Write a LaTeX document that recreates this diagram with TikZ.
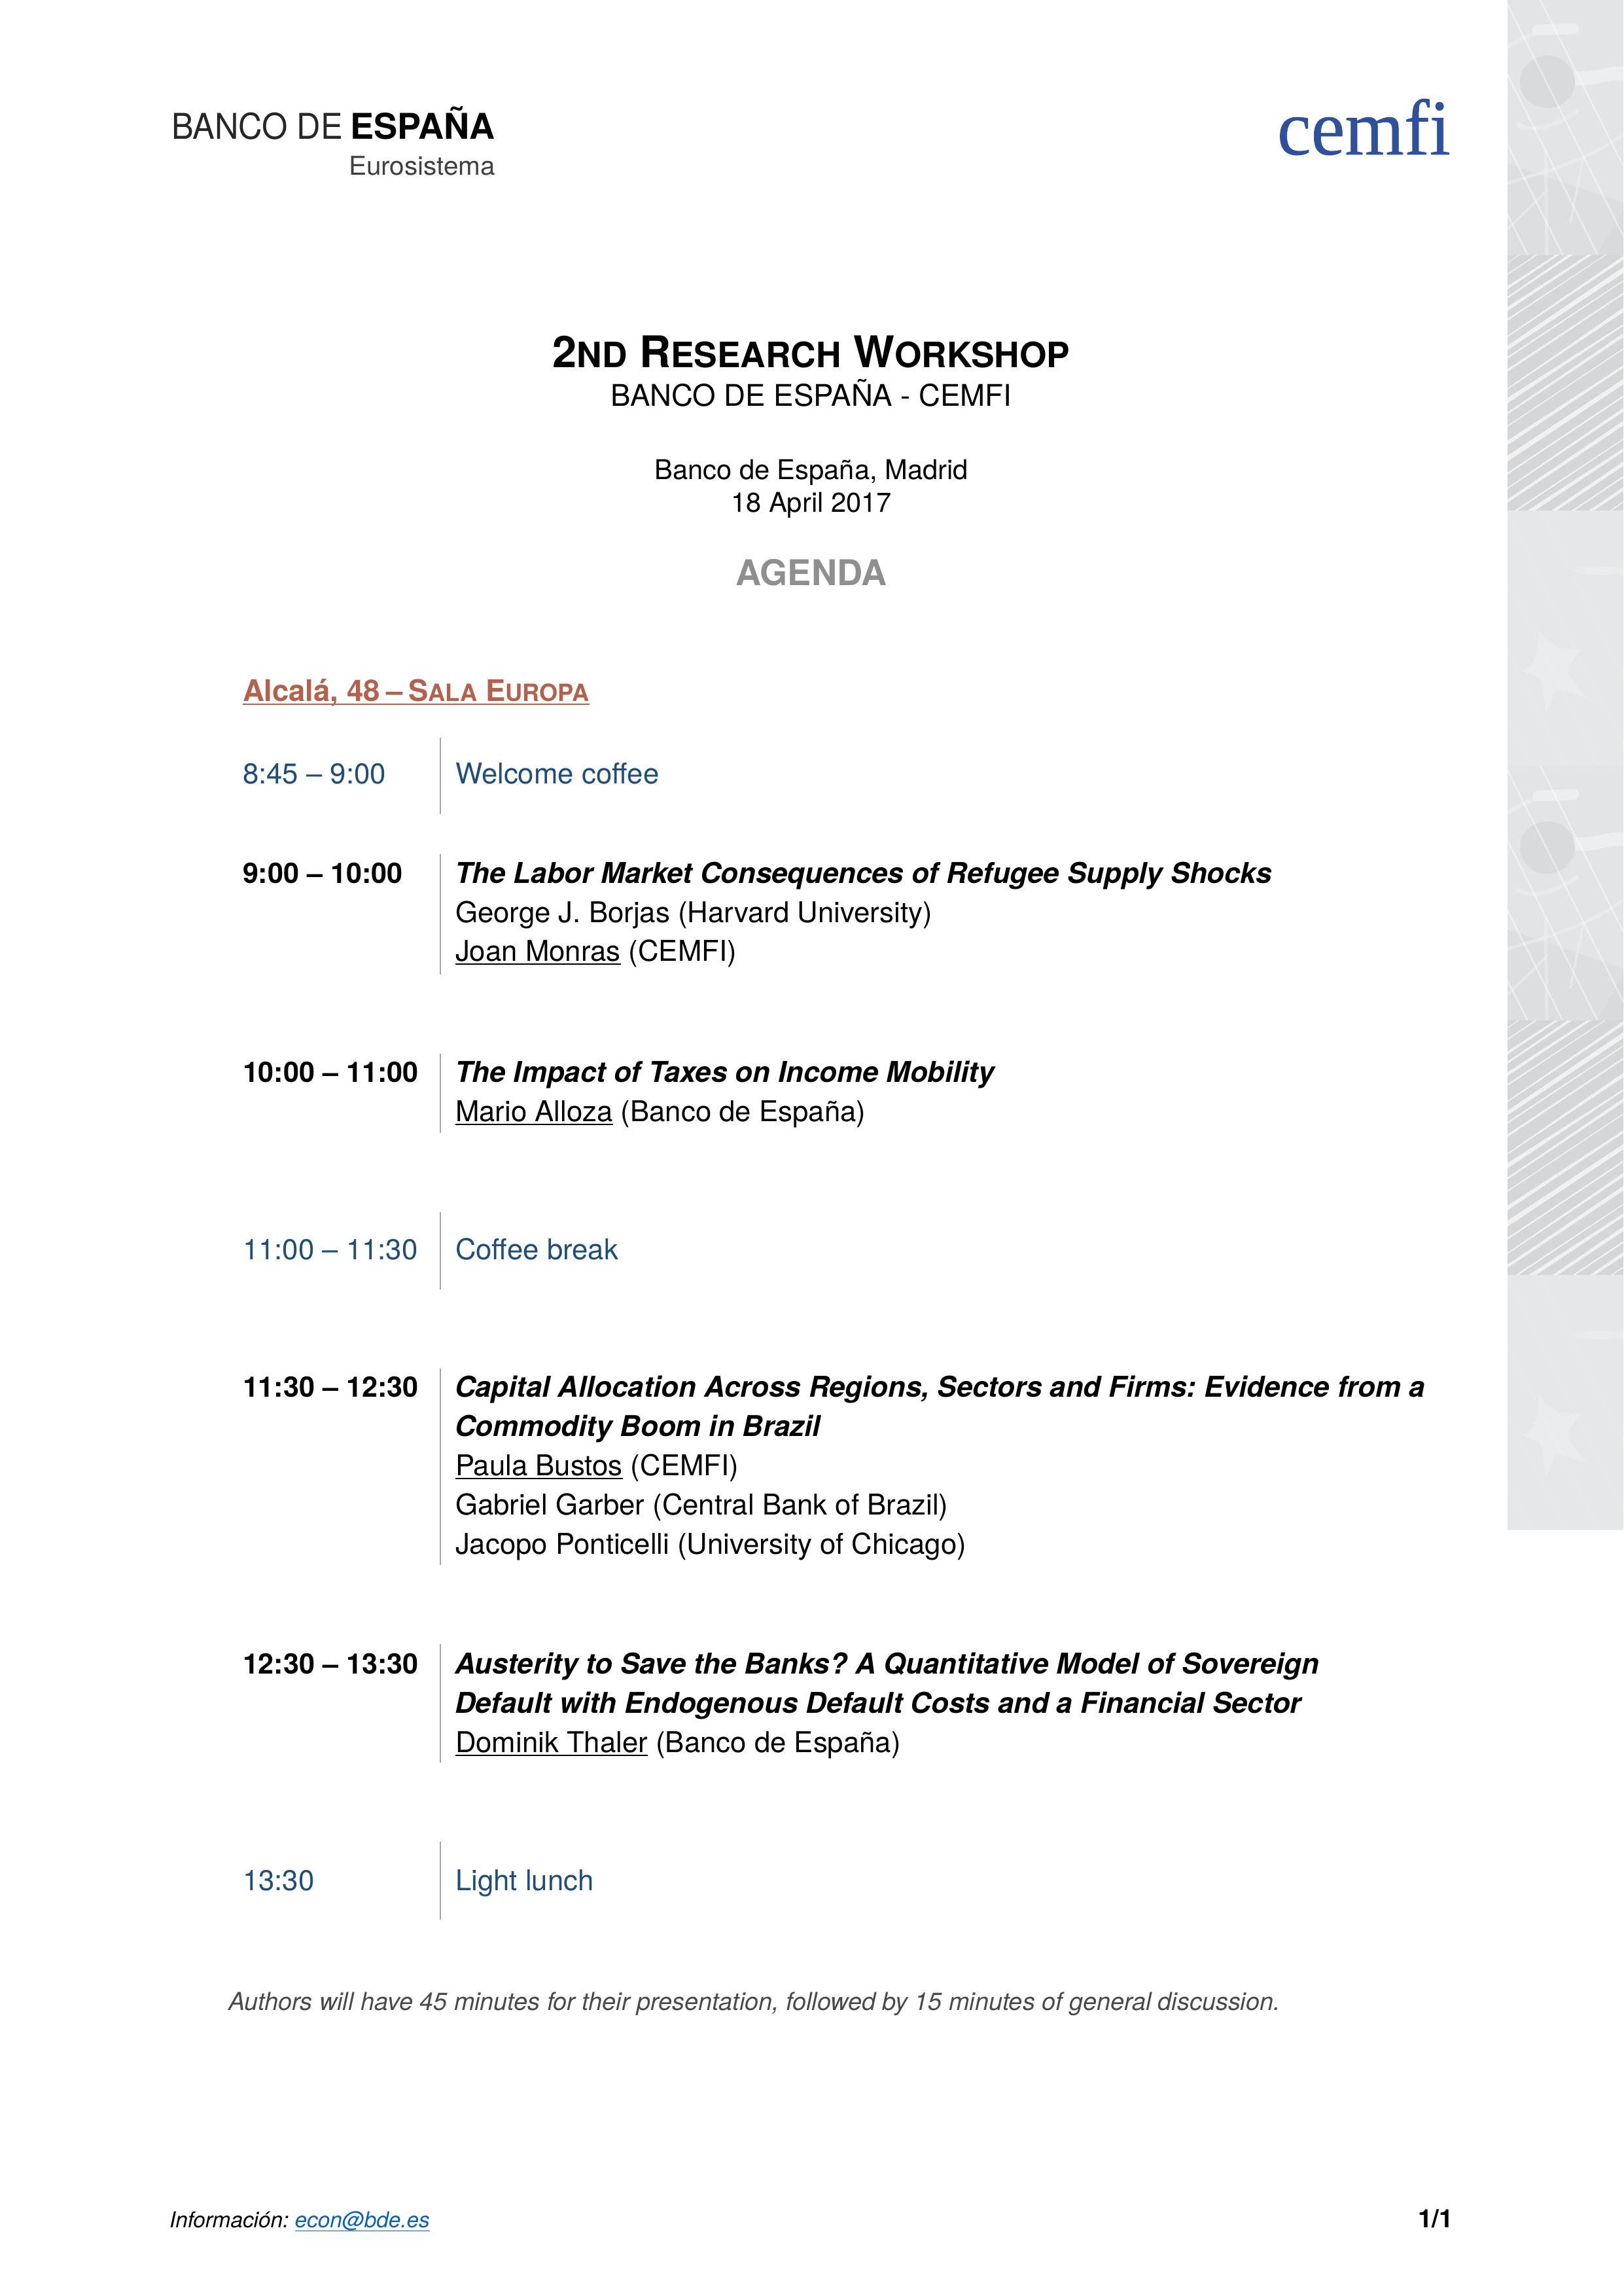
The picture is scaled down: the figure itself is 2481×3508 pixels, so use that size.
\documentclass[tikz,border=0pt]{standalone}
\usepackage{fontspec}
\usepackage{graphicx}
\setmainfont{TeX Gyre Heros}
\newfontfamily\cemfifont[FakeBold=0.5]{Liberation Serif}
\frenchspacing
\definecolor{bluetxt}{HTML}{1F4E7E}
\definecolor{redtxt}{HTML}{B5604A}
\definecolor{graytxt}{HTML}{8F8F8F}
\definecolor{barcol}{HTML}{A6A6A6}
\definecolor{notetxt}{HTML}{4A4A4A}
\definecolor{linktxt}{HTML}{0B62B5}
\definecolor{cemfiblue}{HTML}{2F509B}
\definecolor{pbase}{HTML}{E3E4E5}
\definecolor{plight}{HTML}{EDEEEF}
\definecolor{pdark}{HTML}{D9DADC}
\definecolor{sbase}{HTML}{D5D6D7}
\definecolor{slight}{HTML}{F1F1F1}
\definecolor{sbaseb}{HTML}{E6E7E8}
\newcommand\myul[2][0.6pt]{\leavevmode\setbox0\hbox{#2}\rlap{\rule[-1.5pt]{\wd0}{#1}}\box0 }
\newcommand\bodysize{\fontsize{10.5}{14.4}\selectfont}
\tikzset{
  txt/.style={inner sep=0pt,outer sep=0pt,anchor=base west,font=\bodysize},
  ctr/.style={inner sep=0pt,outer sep=0pt,anchor=base,font=\bodysize},
  timeblue/.style={txt,text=bluetxt},
  timebold/.style={txt,font=\fontsize{10.35}{14.4}\selectfont\bfseries},
  talk/.style={txt,font=\bodysize\bfseries\itshape},
  bar/.style={draw=barcol,line width=0.5pt},
}
\newcommand\hatchlines[3]{% period, colour, width
  \foreach \k in {-100,#1,...,500}{\draw[#2,line width=#3] (2304,\k) -- (2481,\k+354);}}
\newcommand\panelA{%
  \begin{scope}
  \clip (2304,0) rectangle (2481,390);
  \fill[pbase] (2304,0) rectangle (2481,390);
  \fill[pdark!60!pbase] (2304,250) -- (2481,310) -- (2481,390) -- (2304,390) -- cycle;
  \fill[pdark] (2440,390) -- (2481,320) -- (2481,390) -- cycle;
  \draw[plight,line width=4pt,line cap=round] (2350,46) -- (2405,44);
  \draw[plight,line width=5pt,line cap=round] (2395,118) .. controls (2430,125) and (2455,110) .. (2481,112);
  \begin{scope}[opacity=.6]
  \draw[plight,line width=1.5pt,line cap=round] (2304,72) .. controls (2330,55) and (2345,50) .. (2375,45);
  \draw[plight,line width=1.5pt,line cap=round] (2320,190) .. controls (2345,205) and (2380,190) .. (2410,170);
  \draw[plight,line width=1.2pt,line cap=round] (2304,280) .. controls (2350,265) and (2420,250) .. (2481,205);
  \draw[plight,line width=1.2pt] (2362,230) -- (2364,390);
  \draw[plight,line width=.8pt] (2420,240) -- (2400,340);
  \draw[plight,line width=.8pt] (2304,350) -- (2365,290);
  \end{scope}
  \fill[pdark] (2365,125) circle[x radius=42,y radius=40];
  \hatchlines{7}{white,opacity=.42}{0.6pt}
  \end{scope}}
\newcommand\panelB{%
  \begin{scope}
  \clip (2304,0) rectangle (2481,390);
  \fill[sbase] (2304,0) rectangle (2481,390);
  \foreach \o/\wa/\wb in {12/1/6,30/2/3,52/5/2,66/3/7,85/6/3,100/3/1,125/2/6,145/7/9,158/3/2,178/4/3,205/2/7,
     226/8/3,243/3/6,262/2/2,290/7/4,315/9/8,335/3/3,357/2/6,378/5/7,400/3/2,418/8/5,440/4/7,458/2/3,
     478/3/6,496/2/2,512/4/5,535/3/3,555/1/5}{
    \fill[slight] (2304,\o) -- (2481,\o-118) -- (2481,\o-118-\wb) -- (2304,\o-\wa) -- cycle;}
  \end{scope}}
\newcommand\panelC{%
  \begin{scope}
  \clip (2304,0) rectangle (2481,390);
  \fill[sbaseb] (2304,0) rectangle (2481,390);
  \fill[plight,opacity=.7] (2445,92) ellipse[x radius=40,y radius=6];
  \fill[plight,opacity=.7] (2323,245) .. controls (2340,240) and (2350,235) .. (2352,180)
     .. controls (2362,205) and (2385,215) .. (2418,211)
     .. controls (2405,225) and (2395,235) .. (2398,252)
     .. controls (2410,268) and (2420,280) .. (2425,287)
     .. controls (2405,280) and (2385,272) .. (2378,272)
     .. controls (2372,285) and (2368,300) .. (2362,310)
     .. controls (2360,285) and (2358,265) .. (2352,255) -- cycle;
  \hatchlines{4}{white,opacity=.16}{0.4pt}
  \end{scope}}
\begin{document}
\begin{tikzpicture}[x=0.24pt,y=-0.24pt]
\useasboundingbox (0,0) rectangle (2481,3508);
\fill[white] (0,0) rectangle (2481,3508);
% side band
\begin{scope}[shift={(0,0)}]\panelA\end{scope}
\begin{scope}[shift={(0,390)}]\panelB\end{scope}
\begin{scope}[shift={(0,780)}]\panelC\end{scope}
\begin{scope}[shift={(0,1170)}]\panelA\end{scope}
\begin{scope}[shift={(0,1559)}]\panelB\end{scope}
\begin{scope}[shift={(0,1948)}]\panelC\end{scope}
% logos
\node[txt,text=black!85,font=\fontsize{13}{15}\selectfont] (bde1) at (262,213) {\resizebox{62.9pt}{\height}{BANCO DE}};
\node[txt,font=\fontsize{13}{15}\selectfont\bfseries] (bde2) at (535,213) {\resizebox{53.2pt}{\height}{ESPAÑA}};
\node[txt,text=black!75,font=\fontsize{9.5}{11}\selectfont] (bde3) at (533,268) {\resizebox{53.8pt}{\height}{Eurosistema}};
\node[txt,text=cemfiblue,font=\cemfifont\fontsize{29}{30}\selectfont] (cemfi) at (1952,236) {\resizebox{63.6pt}{\height}{cemfi}};
% heading
\node[ctr,font=\bfseries] (title) at (1240,562) {\fontsize{16}{18}\selectfont 2{\fontsize{12.8}{18}\selectfont ND} R{\fontsize{12.8}{18}\selectfont ESEARCH} W{\fontsize{12.8}{18}\selectfont ORKSHOP}};
\node[ctr,font=\fontsize{10.95}{14}\selectfont] (sub) at (1240,621) {BANCO DE ESPAÑA - CEMFI};
\node[ctr,font=\fontsize{10}{14}\selectfont] (place) at (1240,733) {Banco de España, Madrid};
\node[ctr,font=\fontsize{10}{14}\selectfont] (date) at (1240,783) {18 April 2017};
\node[ctr,text=graytxt,font=\fontsize{13}{16}\selectfont\bfseries] (agenda) at (1240,895) {AGENDA};
\node[txt,text=redtxt,font=\fontsize{10.9}{14}\selectfont\bfseries] (room) at (371,1071) {\myul{Alcalá, 48\hspace{-0.6pt} –\hspace{-1pt} S{\fontsize{8.7}{12}\selectfont ALA} E{\fontsize{8.7}{12}\selectfont UROPA}}};
% separators
\foreach \n/\a/\b in {a/1127/1244,b/1305/1489,c/1610/1731,d/1852/1970,e/2091/2391,f/2512/2693,g/2814/2933}{
  \coordinate (\n top) at (673,\a);
  \coordinate (\n bot) at (673,\b);
  \draw[bar] (\n top) -- (\n bot);
}
% rows
\node[timeblue] (t1) at (371,1197) {8:45 – 9:00};
\node[timeblue] (w1) at (696,1197) {Welcome coffee};
\node[timebold] (t2) at (371,1349) {9:00 – 10:00};
\node[talk] (w2) at (695,1349) {The Labor Market Consequences of Refugee Supply Shocks};
\node[txt] (w2a) at (696,1409) {George J. Borjas (Harvard University)};
\node[txt] (w2b) at (696,1468) {\myul{Joan Monras} (CEMFI)};
\node[timebold] (t3) at (371,1653) {10:00 – 11:00};
\node[talk] (w3) at (695,1653) {The Impact of Taxes on Income Mobility};
\node[txt] (w3a) at (696,1713) {\myul{Mario Alloza} (Banco de España)};
\node[timeblue] (t4) at (371,1924) {11:00 – 11:30};
\node[timeblue] (w4) at (696,1924) {Coffee break};
\node[timebold] (t5) at (371,2134) {11:30 – 12:30};
\node[talk] (w5) at (695,2134) {Capital Allocation Across Regions, Sectors and Firms: Evidence from a};
\node[talk] (w5b) at (695,2194) {Commodity Boom in Brazil};
\node[txt] (w5c) at (696,2254) {\myul{Paula Bustos} (CEMFI)};
\node[txt] (w5d) at (696,2314) {Gabriel Garber (Central Bank of Brazil)};
\node[txt] (w5e) at (696,2374) {Jacopo Ponticelli (University of Chicago)};
\node[timebold] (t6) at (371,2557) {12:30 – 13:30};
\node[talk] (w6) at (695,2557) {Austerity to Save the Banks? A Quantitative Model of Sovereign};
\node[talk] (w6b) at (695,2617) {Default with Endogenous Default Costs and a Financial Sector};
\node[txt] (w6c) at (696,2677) {\myul{Dominik Thaler} (Banco de España)};
\node[timeblue] (t7) at (371,2888) {13:30};
\node[timeblue] (w7) at (696,2888) {Light lunch};
\node[txt,text=notetxt,font=\fontsize{9.07}{12}\selectfont\itshape] (note) at (349,3071) {Authors will have 45 minutes for their presentation, followed by 15 minutes of general discussion.};
% footer
\node[txt,font=\fontsize{8}{11}\selectfont\itshape] (info) at (259,3403) {Información: \textcolor{linktxt}{\myul[0.4pt]{econ@bde.es}}};
\node[inner sep=0pt,outer sep=0pt,anchor=base east,font=\fontsize{9.3}{11}\selectfont\bfseries] (pageno) at (2221,3403) {1/1};
\end{tikzpicture}
\end{document}
